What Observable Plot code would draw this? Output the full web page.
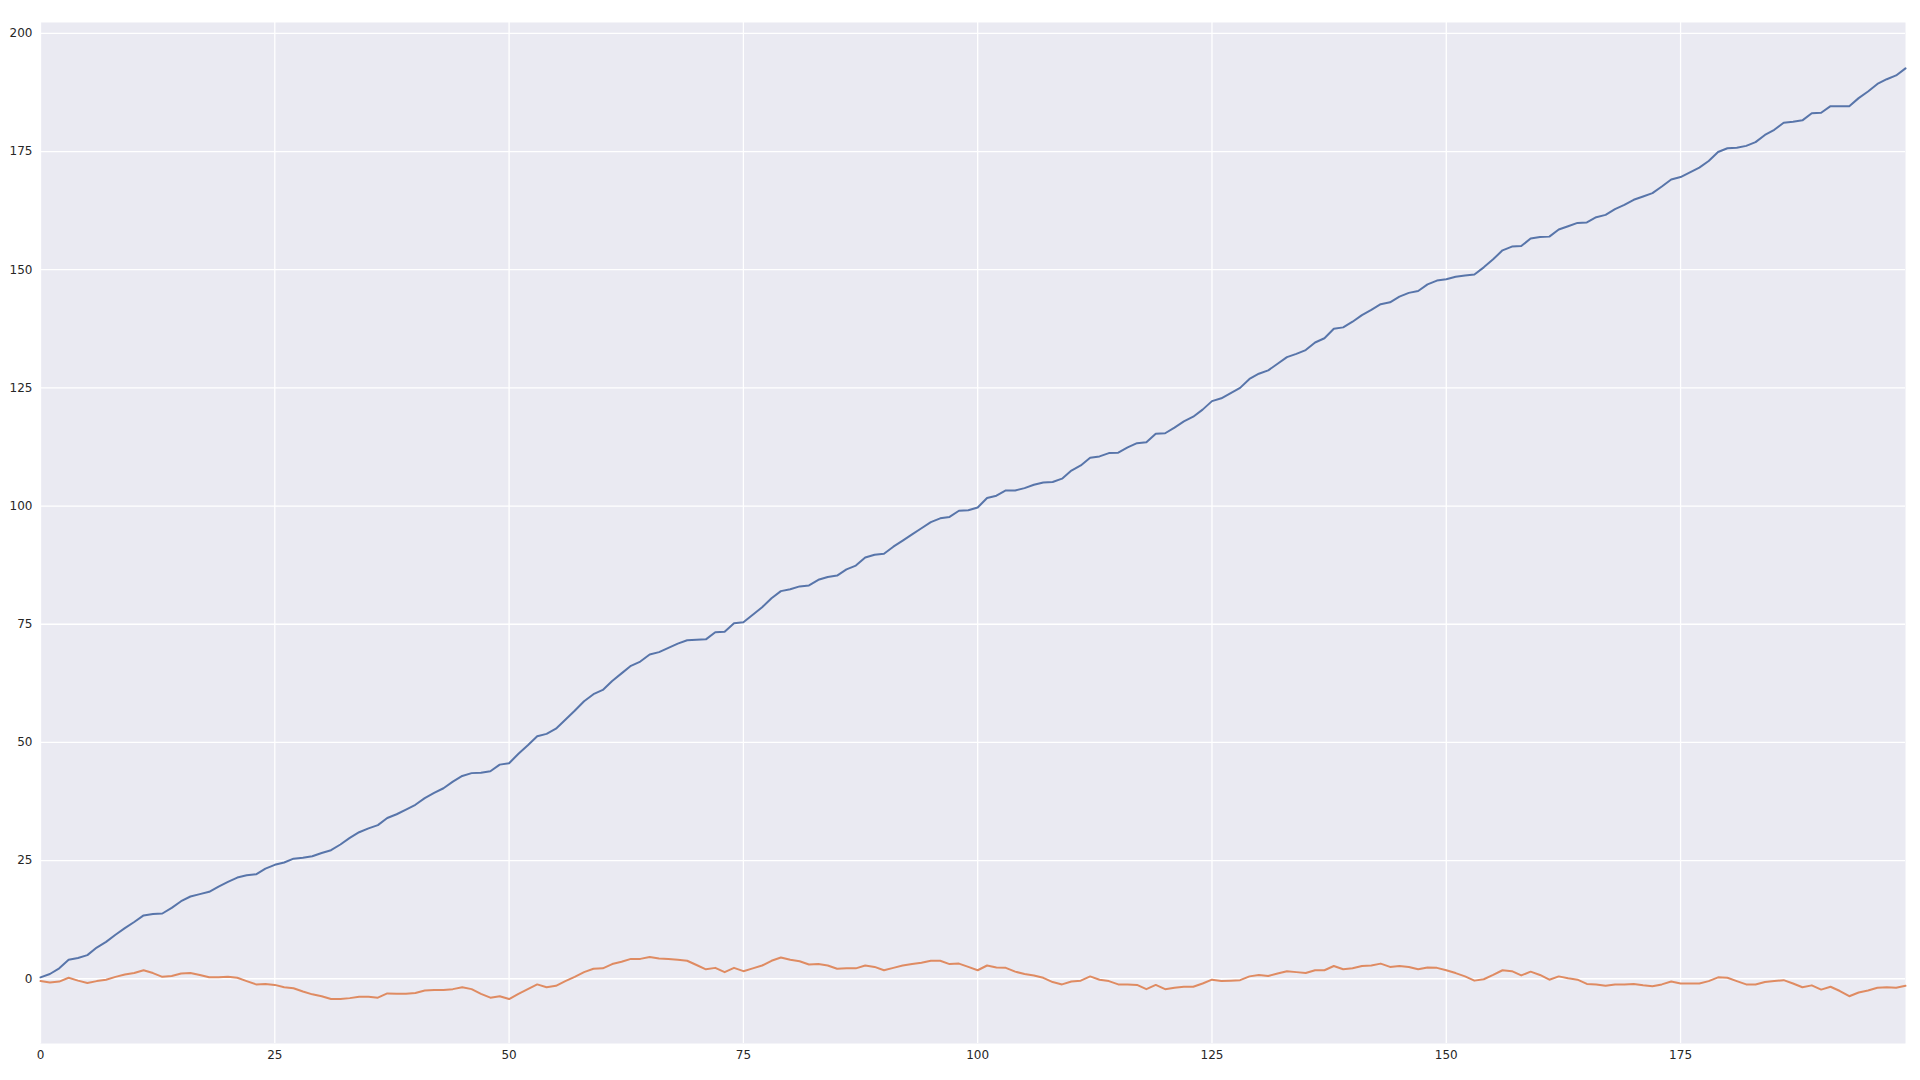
<!DOCTYPE html>
<html>
<head>
<meta charset="utf-8">
<script src="https://cdn.jsdelivr.net/npm/d3@7"></script>
<script src="https://cdn.jsdelivr.net/npm/@observablehq/plot@0.6"></script>
<style>
  html, body { margin: 0; padding: 0; background: #ffffff; }
  #chart svg { display: block; }
</style>
</head>
<body>
<div id="chart"></div>
<script>
const xTicks = [0, 25, 50, 75, 100, 125, 150, 175];
const yTicks = [0, 25, 50, 75, 100, 125, 150, 175, 200];

const blueValues = [
  0.3, 1, 2.2, 4, 4.4, 5, 6.6, 7.8, 9.3, 10.7,
  12, 13.4, 13.7, 13.8, 15, 16.4, 17.4, 17.9, 18.4, 19.5,
  20.5, 21.4, 21.9, 22.1, 23.3, 24.1, 24.6, 25.4, 25.6, 25.9,
  26.6, 27.2, 28.4, 29.8, 31, 31.8, 32.5, 34, 34.8, 35.8,
  36.8, 38.2, 39.3, 40.3, 41.7, 42.9, 43.5, 43.6, 43.9, 45.3,
  45.6, 47.6, 49.4, 51.3, 51.8, 52.9, 54.8, 56.7, 58.7, 60.2,
  61.1, 63, 64.6, 66.2, 67.1, 68.6, 69.1, 70, 70.9, 71.6,
  71.7, 71.8, 73.3, 73.4, 75.2, 75.4, 77, 78.6, 80.5, 82,
  82.4, 83, 83.2, 84.4, 85, 85.3, 86.6, 87.4, 89.1, 89.7,
  89.9, 91.4, 92.7, 94, 95.3, 96.6, 97.4, 97.7, 99, 99.1,
  99.7, 101.7, 102.2, 103.3, 103.3, 103.8, 104.5, 105, 105.1, 105.8,
  107.5, 108.6, 110.2, 110.5, 111.2, 111.3, 112.4, 113.3, 113.5, 115.3,
  115.4, 116.6, 117.9, 118.9, 120.4, 122.2, 122.8, 123.9, 125, 126.9,
  128, 128.7, 130.1, 131.5, 132.2, 133, 134.6, 135.5, 137.5, 137.8,
  139, 140.4, 141.5, 142.7, 143.1, 144.3, 145.1, 145.5, 146.9, 147.7,
  148, 148.5, 148.8, 149, 150.5, 152.2, 154.1, 154.9, 155, 156.6,
  156.9, 157, 158.5, 159.2, 159.9, 160, 161.1, 161.6, 162.8, 163.7,
  164.8, 165.5, 166.2, 167.6, 169.1, 169.6, 170.6, 171.6, 173, 174.9,
  175.7, 175.8, 176.2, 177, 178.5, 179.6, 181.1, 181.3, 181.6, 183.1,
  183.2, 184.6, 184.6, 184.6, 186.3, 187.7, 189.3, 190.3, 191.1, 192.6
];

const orangeValues = [
  -0.5, -0.8, -0.6, 0.2, -0.4, -0.9, -0.5, -0.2, 0.4, 0.9,
  1.2, 1.8, 1.2, 0.4, 0.6, 1.1, 1.2, 0.8, 0.3, 0.3,
  0.4, 0.2, -0.5, -1.2, -1.1, -1.3, -1.8, -2.0, -2.7, -3.3,
  -3.7, -4.3, -4.3, -4.1, -3.8, -3.8, -4.0, -3.1, -3.2, -3.2,
  -3.0, -2.5, -2.4, -2.4, -2.2, -1.8, -2.2, -3.2, -4.0, -3.7,
  -4.3, -3.2, -2.2, -1.2, -1.8, -1.5, -0.5, 0.4, 1.4, 2.1,
  2.2, 3.1, 3.6, 4.2, 4.2, 4.6, 4.3, 4.2, 4.0, 3.8,
  2.9, 2.0, 2.3, 1.4, 2.3, 1.6, 2.2, 2.8, 3.8, 4.5,
  4.0, 3.7, 3.0, 3.1, 2.8, 2.1, 2.2, 2.2, 2.8, 2.5,
  1.8, 2.3, 2.8, 3.1, 3.4, 3.8, 3.8, 3.1, 3.2, 2.5,
  1.8, 2.8, 2.4, 2.3, 1.5, 1.0, 0.7, 0.2, -0.7, -1.2,
  -0.6, -0.4, 0.5, -0.2, -0.5, -1.2, -1.2, -1.3, -2.2, -1.3,
  -2.2, -1.9, -1.7, -1.7, -1.0, -0.2, -0.5, -0.4, -0.3, 0.5,
  0.8, 0.6, 1.1, 1.6, 1.4, 1.2, 1.8, 1.8, 2.7, 2.0,
  2.2, 2.7, 2.8, 3.2, 2.5, 2.7, 2.5, 2.0, 2.4, 2.3,
  1.8, 1.2, 0.5, -0.4, -0.1, 0.8, 1.8, 1.6, 0.7, 1.5,
  0.8, -0.2, 0.5, 0.1, -0.2, -1.1, -1.2, -1.5, -1.2, -1.2,
  -1.1, -1.4, -1.6, -1.2, -0.6, -1.0, -1.0, -1.0, -0.5, 0.3,
  0.2, -0.5, -1.2, -1.2, -0.7, -0.5, -0.3, -1.0, -1.8, -1.4,
  -2.3, -1.7, -2.6, -3.7, -2.9, -2.5, -1.9, -1.8, -1.9, -1.5
];

const xIndex = d3.range(blueValues.length);
const blueData = xIndex.map(i => ({x: i, v: blueValues[i]}));
const orangeData = xIndex.map(i => ({x: i, v: orangeValues[i]}));

const chart = Plot.plot({
  width: 1920,
  height: 1080,
  marginLeft: 40,
  marginRight: 15,
  marginTop: 22,
  marginBottom: 37,
  style: {background: "#ffffff", fontFamily: "DejaVu Sans", fontSize: "12px", color: "#262626"},
  x: {domain: [0, 199], label: null},
  y: {domain: [-13.7, 202.3], label: null},
  marks: [
    Plot.frame({fill: "#EAEAF2", stroke: null}),
    Plot.gridX(xTicks, {stroke: "#ffffff", strokeOpacity: 1, strokeWidth: 1.3}),
    Plot.gridY(yTicks, {stroke: "#ffffff", strokeOpacity: 1, strokeWidth: 1.3}),
    Plot.axisX(xTicks, {tickSize: 0, tickPadding: 7, label: null}),
    Plot.axisY(yTicks, {tickSize: 0, tickPadding: 8, label: null}),
    Plot.line(blueData, {x: "x", y: "v", stroke: "#5875AA", strokeWidth: 2}),
    Plot.line(orangeData, {x: "x", y: "v", stroke: "#DF8B62", strokeWidth: 2})
  ]
});
document.getElementById("chart").appendChild(chart);
</script>
</body>
</html>
